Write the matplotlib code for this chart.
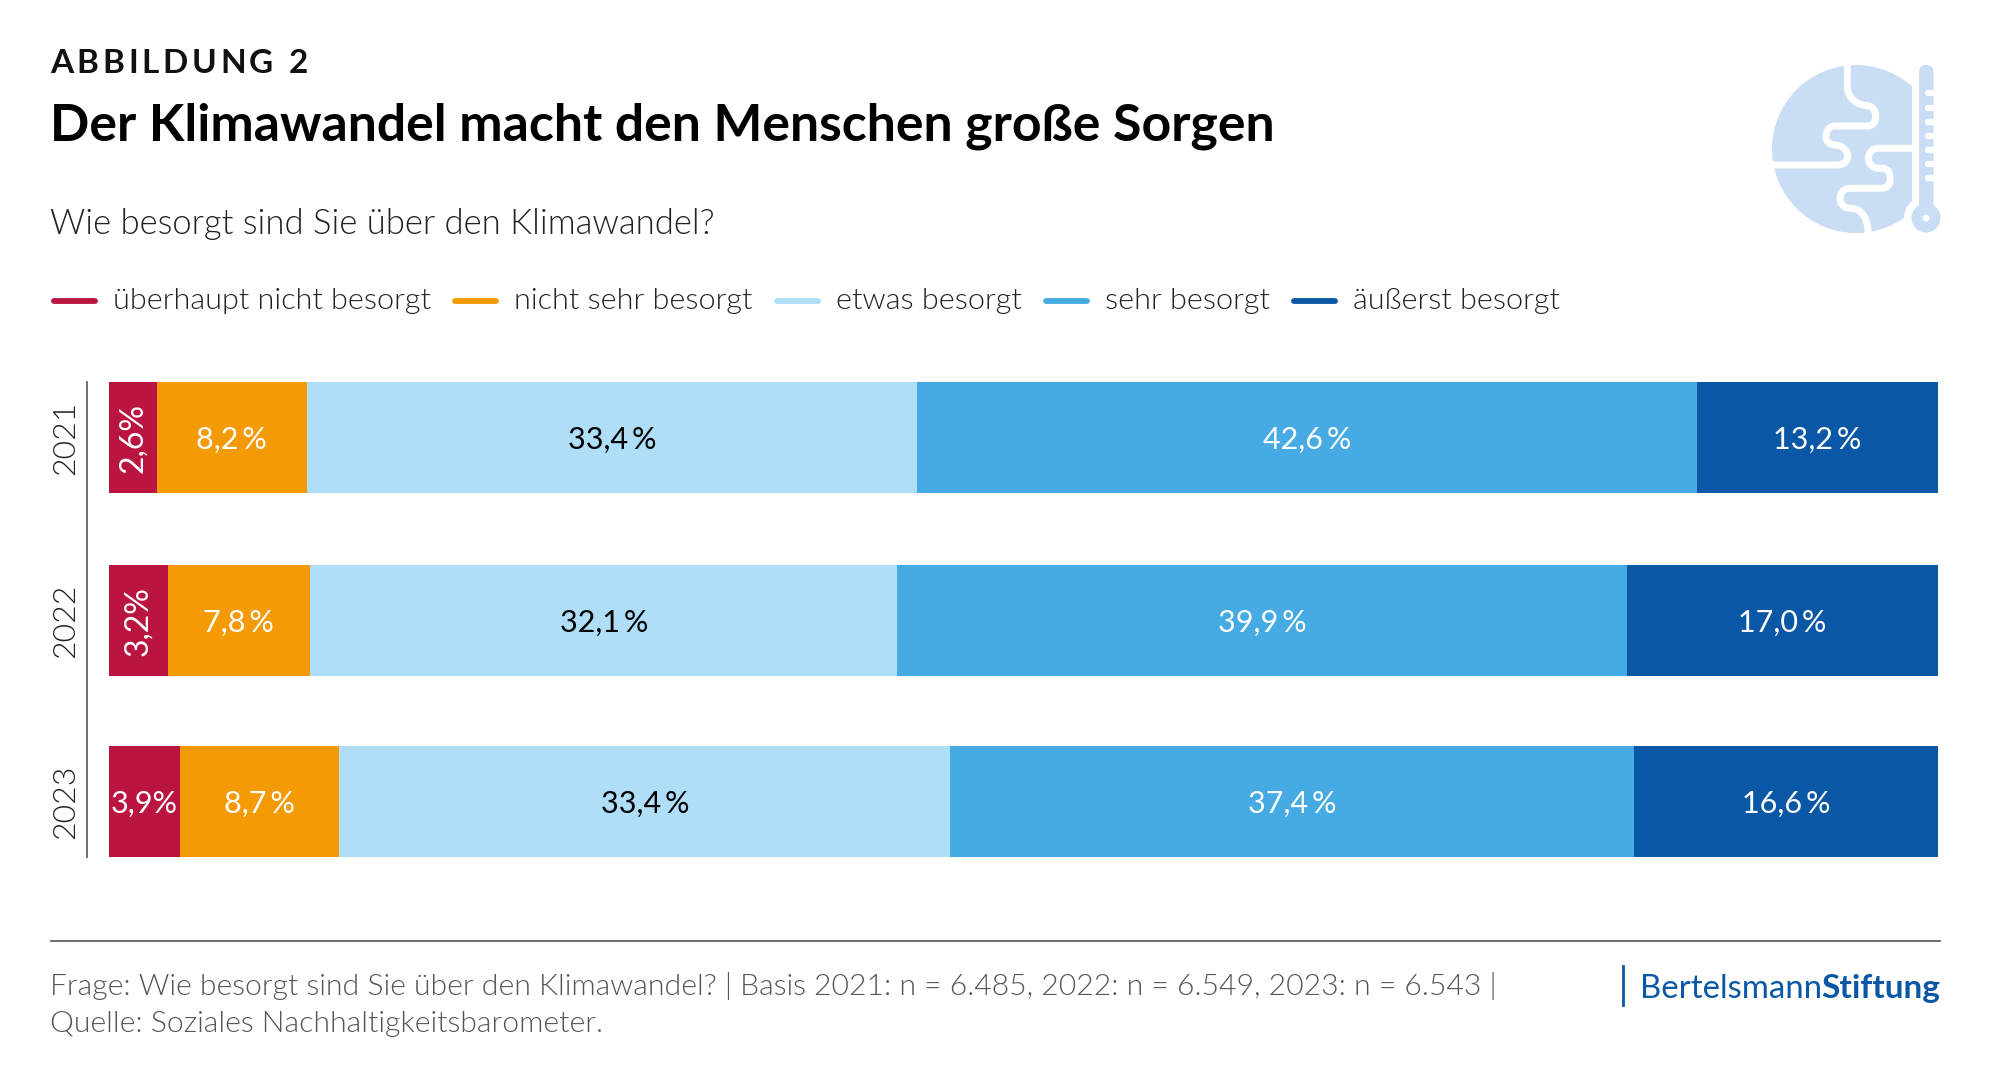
import matplotlib
matplotlib.use("Agg")
import matplotlib.pyplot as plt
import numpy as np
from matplotlib.path import Path
from matplotlib.patches import PathPatch, Circle, FancyBboxPatch, Rectangle
from matplotlib.lines import Line2D

plt.rcParams['font.family'] = ['Lato', 'DejaVu Sans']

years = ["2021", "2022", "2023"]
categories = ["überhaupt nicht besorgt", "nicht sehr besorgt", "etwas besorgt", "sehr besorgt", "äußerst besorgt"]
ueberhaupt = [2.6, 3.2, 3.9]
nicht_sehr = [8.2, 7.8, 8.7]
etwas = [33.4, 32.1, 33.4]
sehr = [42.6, 39.9, 37.4]
aeusserst = [13.2, 17.0, 16.6]
series = [ueberhaupt, nicht_sehr, etwas, sehr, aeusserst]
colors = ["#BA1540", "#F39A05", "#AFDEF9", "#46ABE3", "#0A57A5"]
label_colors = ["white", "white", "black", "white", "white"]

W, H = 2002, 1070
GRAY = "#555555"
LIGHT = 300
fig = plt.figure(figsize=(W / 100, H / 100), dpi=100)

# overlay in pixel coordinates, for texts, legend and icon
bg = fig.add_axes([0, 0, 1, 1])
bg.set_xlim(0, W)
bg.set_ylim(H, 0)
bg.axis("off")


def spaced_text(x, y, s, gap, **kw):
    # no letter spacing in matplotlib, so place it char by char
    r = fig.canvas.get_renderer()
    for ch in s:
        bg.text(x, y, ch, va="baseline", ha="left", **kw)
        adv = bg.text(0, 0, ch + "|", **kw)
        bar = bg.text(0, 0, "|", **kw)
        w = adv.get_window_extent(r).width - bar.get_window_extent(r).width
        adv.remove()
        bar.remove()
        x += w + gap


spaced_text(50, 73, "ABBILDUNG 2", 3.7, fontsize=24, fontweight="bold", color="#111111")
bg.text(50, 141, "Der Klimawandel macht den Menschen große Sorgen", fontsize=37.3, fontweight="bold",
        color="black", va="baseline")
bg.text(50, 234, "Wie besorgt sind Sie über den Klimawandel?", fontsize=24.9, fontweight=LIGHT,
        color="#222222", va="baseline")

# legend
legend_x = [51, 452, 774, 1043, 1291]
for x, name, col in zip(legend_x, categories, colors):
    bg.add_line(Line2D([x + 3, x + 44], [301, 301], color=col, lw=4.2, solid_capstyle="round"))
    bg.text(x + 62, 309, name, fontsize=21.95, fontweight=LIGHT, color="#222222", va="baseline")

# bars
left, right, top, bottom = 109, 1938, 382, 857
ax = fig.add_axes([left / W, 1 - bottom / H, (right - left) / W, (bottom - top) / H])
# set_position resets the ticks, so do it before them
ax.spines["left"].set_position(("outward", 16))
ypos = np.array([0, 1.006, 2])
bar_h = 0.612
base = np.zeros(len(years))
for vals, col, lab_col in zip(series, colors, label_colors):
    ax.barh(ypos, vals, left=base, height=bar_h, color=col, linewidth=0)
    for y, v, b in zip(ypos, vals, base):
        txt = f"{v:.1f}".replace(".", ",")
        if v < 3.5:
            ax.text(b + v / 2, y, txt + "%", rotation=90, ha="center", va="center",
                    color=lab_col, fontsize=23, fontweight="normal")
        elif v < 5:
            ax.text(b + v / 2, y, txt + "%", ha="center", va="center_baseline",
                    color=lab_col, fontsize=22, fontweight="normal")
        else:
            ax.text(b + v / 2, y, txt + "\u2009%", ha="center", va="center_baseline",
                    color=lab_col, fontsize=22, fontweight="normal")
    base = base + np.array(vals)
ax.set_xlim(0, 100)
ax.set_ylim(ypos[-1] + bar_h / 2, -bar_h / 2)
ax.set_xticks([])
ax.set_yticks(ypos)
ax.tick_params(axis="y", length=0, pad=5)
ax.set_yticklabels(years, rotation=90, va="center", fontsize=23, fontweight=LIGHT, color="#222222")
for s in ["top", "right", "bottom"]:
    ax.spines[s].set_visible(False)
ax.spines["left"].set_color(GRAY)
ax.spines["left"].set_linewidth(1.2)

# footer
bg.add_line(Line2D([51, 1940], [940.5, 940.5], color=GRAY, lw=1.2))
bg.text(50, 995, "Frage: Wie besorgt sind Sie über den Klimawandel? | Basis 2021: n = 6.485, 2022: n = 6.549, 2023: n = 6.543 |",
        fontsize=21.7, fontweight=LIGHT, color=GRAY, va="baseline")
bg.text(50, 1032, "Quelle: Soziales Nachhaltigkeitsbarometer.", fontsize=21.7, fontweight=LIGHT, color=GRAY, va="baseline")

# logo
BLUE = "#0A57A5"
bg.add_line(Line2D([1623, 1623], [966, 1005], color=BLUE, lw=2))
bg.text(1640, 998, "Bertelsmann", fontsize=23.7, color=BLUE, va="baseline")
bg.text(1940, 998, "Stiftung", fontsize=24, fontweight="bold", color=BLUE, va="baseline", ha="right")

# icon
ICON = "#C9DDF5"
def ix(v):
    return 1700 + v / 3
def iy(v):
    return 40 + v / 3

globe = Circle((1856, 149), 84, color=ICON, lw=0, zorder=3)
bg.add_patch(globe)
clip = Rectangle((1700, 40), 212, 220, transform=bg.transData)
globe.set_clip_path(clip)

river1 = [(442, 60), (442, 140), (442, 175), (475, 197), (500, 197), (520, 197), (527, 215), (527, 230),
          (527, 245), (520, 258), (500, 258), (405, 258), (385, 258), (378, 275), (378, 290), (378, 305),
          (390, 315), (405, 315), (425, 315), (443, 330), (443, 350), (443, 365), (430, 375), (410, 375), (210, 375)]
river2 = [(640, 325), (535, 325), (515, 325), (505, 340), (505, 355), (505, 370), (518, 385), (535, 385),
          (545, 385), (570, 385), (570, 405), (570, 420), (570, 435), (560, 445), (545, 445), (450, 445),
          (430, 445), (420, 460), (420, 475), (420, 490), (432, 505), (450, 505), (480, 505), (505, 525), (505, 590)]
C3 = [Path.CURVE4] * 3
codes1 = [Path.MOVETO, Path.LINETO] + C3 * 3 + [Path.LINETO] + C3 * 4 + [Path.LINETO]
codes2 = [Path.MOVETO, Path.LINETO] + C3 * 2 + [Path.LINETO] + C3 * 2 + [Path.LINETO] + C3 * 3
for pts, codes in [(river1, codes1), (river2, codes2)]:
    pts = [(ix(a), iy(b)) for a, b in pts]
    bg.add_patch(PathPatch(Path(pts, codes), fill=False, ec="white", lw=5, zorder=4, capstyle="butt"))

# thermometer
bg.add_patch(Circle((1926, 218), 22, color="white", lw=0, zorder=5))
bg.add_patch(FancyBboxPatch((1919, 65), 14.5, 150, boxstyle="round,pad=0,rounding_size=7", color=ICON, lw=0, zorder=6))
bg.add_patch(Circle((1926, 218), 14.5, color=ICON, lw=0, zorder=6))
bg.add_patch(Circle((1926, 218), 3.5, color="white", lw=0, zorder=7))
for yy in [160, 203, 245, 288, 330, 373, 415]:
    bg.add_line(Line2D([ix(685), ix(705)], [iy(yy), iy(yy)], color="white", lw=4.5, solid_capstyle="round", zorder=7))

fig.savefig("out.png", dpi=100)
